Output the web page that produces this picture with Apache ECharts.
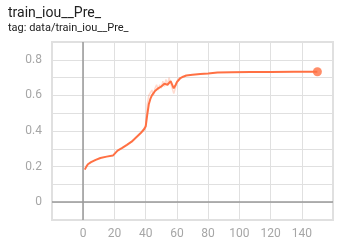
<!DOCTYPE html>
<html>
<head>
<meta charset="utf-8">
<script src="https://cdn.jsdelivr.net/npm/echarts@6/dist/echarts.min.js"></script>
<style>
  html, body { margin: 0; padding: 0; background: #fff; }
  #main { width: 356px; height: 247px; }
</style>
</head>
<body>
<div id="main"></div>
<script>
// smoothed curve
var steps = [1, 2, 3, 5, 8, 11, 15, 19, 20, 22, 25, 28, 31, 34, 37, 39, 40, 41, 42, 43, 44, 46, 48, 50, 52, 54, 56, 57, 58, 59, 60, 62, 64, 66, 70, 75, 80, 86, 95, 107, 120, 135, 150];
var iou = [0.183, 0.20, 0.213, 0.225, 0.238, 0.248, 0.256, 0.262, 0.268, 0.29, 0.305, 0.322, 0.34, 0.365, 0.39, 0.41, 0.425, 0.49, 0.55, 0.58, 0.60, 0.625, 0.64, 0.65, 0.665, 0.66, 0.68, 0.67, 0.64, 0.655, 0.675, 0.695, 0.705, 0.712, 0.716, 0.72, 0.723, 0.728, 0.73, 0.732, 0.732, 0.733, 0.733];
// raw (faint) values
var rawSteps = [38, 40, 41, 42, 43, 44, 45, 46, 47, 48, 49, 50, 51, 52, 53, 54, 55, 56, 57, 58, 59, 60, 61, 62];
var rawIou = [0.40, 0.43, 0.55, 0.60, 0.61, 0.63, 0.60, 0.64, 0.66, 0.63, 0.66, 0.64, 0.68, 0.65, 0.69, 0.66, 0.70, 0.67, 0.66, 0.61, 0.64, 0.68, 0.69, 0.70];

var yLabels = [0, 0.2, 0.4, 0.6, 0.8];
var xLabels = [0, 20, 40, 60, 80, 100, 120, 140];

var lineColor = '#ff7043';
var gridColor = '#e0e0e0';
var labelColor = '#a6a6a6';

function pairs(xs, ys) {
    return xs.map(function (x, i) { return [x, ys[i]]; });
}

var chart = echarts.init(document.getElementById('main'));
var option = {
    backgroundColor: '#ffffff',
    animation: false,
    title: {
        text: 'train_iou__Pre_',
        subtext: 'tag: data/train_iou__Pre_',
        left: 3,
        top: 1,
        itemGap: 3,
        textStyle: { fontFamily: 'Roboto', fontSize: 14, fontWeight: 'normal', color: '#212121' },
        subtextStyle: { fontFamily: 'Roboto', fontSize: 11, color: '#212121' }
    },
    grid: {
        left: 52, right: 23, top: 42, bottom: 27,
        show: true, borderColor: gridColor, borderWidth: 2
    },
    xAxis: {
        type: 'value',
        min: -20, max: 160, interval: 20,
        axisLine: { show: false },
        axisTick: { show: true, length: 3, lineStyle: { color: gridColor } },
        splitLine: { lineStyle: { color: gridColor, width: 1 } },
        axisLabel: {
            customValues: xLabels,
            margin: 8,
            color: labelColor, fontFamily: 'Roboto', fontSize: 12
        }
    },
    yAxis: {
        type: 'value',
        min: -0.1, max: 0.9, interval: 0.1,
        axisLine: { show: false },
        axisTick: { show: true, length: 5, lineStyle: { color: gridColor } },
        splitLine: { lineStyle: { color: gridColor, width: 1 } },
        axisLabel: {
            customValues: yLabels,
            margin: 10,
            color: labelColor, fontFamily: 'Roboto', fontSize: 12,
            formatter: function (v) { return String(Math.round(v * 10) / 10); }
        }
    },
    series: [
        {
            type: 'line',
            data: pairs(rawSteps, rawIou),
            symbol: 'none',
            silent: true,
            lineStyle: { color: lineColor, width: 1.5, opacity: 0.25 },
            z: 2
        },
        {
            type: 'line',
            data: pairs(steps, iou),
            symbol: 'none',
            lineStyle: { color: lineColor, width: 2 },
            z: 3,
            markLine: {
                silent: true,
                symbol: 'none',
                label: { show: false },
                lineStyle: { color: '#999999', width: 1.5, type: 'solid' },
                data: [{ xAxis: 0 }, { yAxis: 0 }],
                z: 1
            }
        },
        {
            type: 'scatter',
            data: [[steps[steps.length - 1], iou[iou.length - 1]]],
            symbolSize: 9,
            itemStyle: { color: lineColor },
            z: 4
        }
    ]
};
chart.setOption(option);
</script>
</body>
</html>
